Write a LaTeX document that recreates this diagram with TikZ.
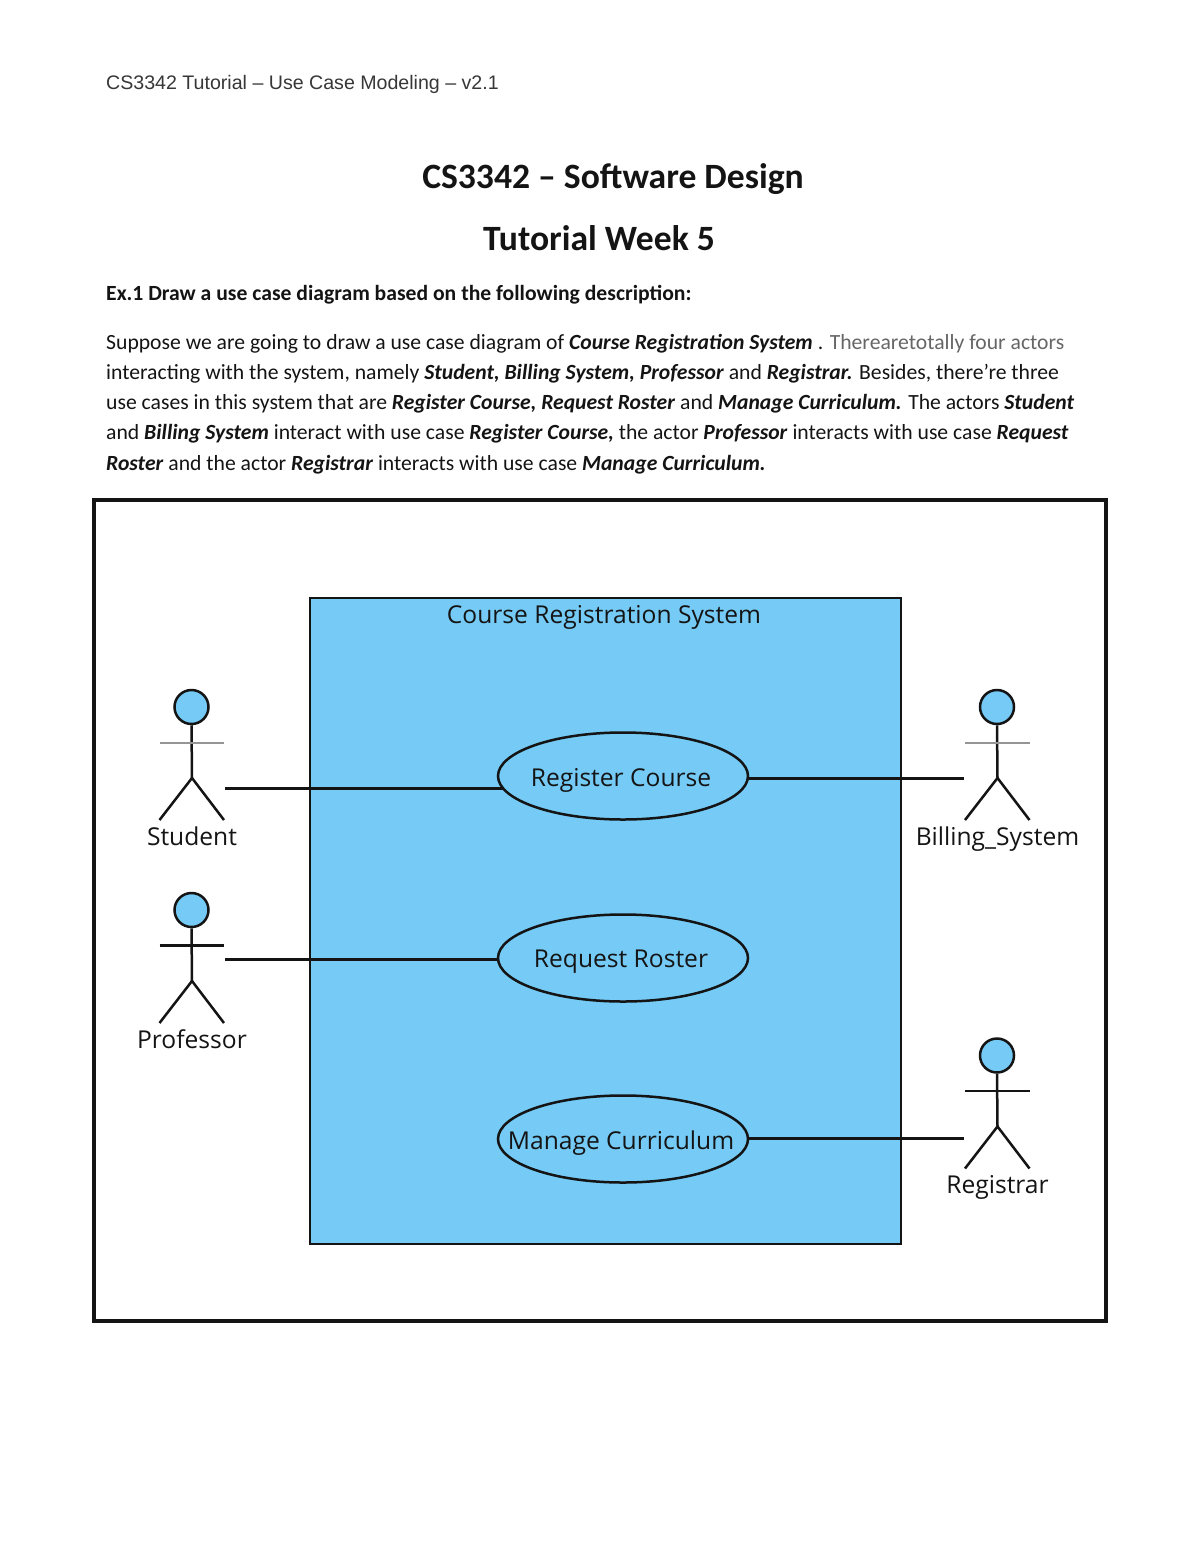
\documentclass[tikz,border=0pt]{standalone}
\usepackage{fontspec}
\setmainfont{Carlito}
\newfontfamily\headfont{Liberation Sans}
\newfontfamily\umlfont{Open Sans}
\definecolor{umlblue}{HTML}{75CBF6}
\definecolor{ink}{HTML}{141414}
\newcommand{\bi}[1]{\textbf{\textit{#1}}}
\usetikzlibrary{shapes.geometric}
\tikzset{
  x=1pt,y=-1pt,
  line/.style={anchor=base west,inner sep=0pt,font=\fontsize{21.65}{24}\selectfont,text=ink},
  title/.style={anchor=base,inner sep=0pt,font=\fontsize{35.6}{40}\selectfont\bfseries,text=ink},
  umltext/.style={anchor=base,inner sep=0pt,text=ink,font=\umlfont\fontsize{24.6}{28}\selectfont},
  usecase/.style={draw=ink,fill=umlblue,ellipse,line width=2.5pt,minimum width=250pt,minimum height=87pt,inner sep=0pt},
  assoc/.style={draw=ink,line width=3pt},
  limb/.style={draw=ink,line width=2.5pt},
  head/.style={draw=ink,fill=umlblue,circle,line width=2.5pt,minimum size=34pt,inner sep=0pt},
}
% #1 name, #2 cx, #3 head y, #4 arm options, #5 label
\newcommand{\actor}[5]{%
  \node[head] (#1head) at (#2,#3) {};
  \coordinate (#1hip) at (#2+0.5,#3+71);
  \draw[limb] (#1head.south) -- (#1hip);
  \draw[limb,#4] (#2-32,#3+35.5) -- (#2+32.5,#3+35.5);
  \draw[limb] (#2-32,#3+113) -- (#1hip) -- (#2+32.5,#3+113);
  \node[umltext] (#1label) at (#2+0.5,#3+138) {#5};
}
\begin{document}
\begin{tikzpicture}
\useasboundingbox (0,0) rectangle (1200,1553);
\fill[white] (0,0) rectangle (1200,1553);
\node[anchor=base west,inner sep=0pt,text=ink!85,font=\headfont\fontsize{19.6}{24}\selectfont] (hdr) at (106,89) {CS3342 Tutorial – Use Case Modeling – v2.1};
\node[title] (t1) at (613,188) {CS3342 – Software Design};
\node[title] (t2) at (599,250) {Tutorial Week 5};
\node[line,font=\fontsize{21.65}{24}\selectfont\bfseries] (ex) at (106,300) {Ex.1 Draw a use case diagram based on the following description:};
\node[line] (l1) at (106,349) {Suppose we are going to draw a use case diagram of \bi{Course Registration System} . \textcolor{ink!65}{Therearetotally four actors}};
\node[line] (l2) at (106,379) {interacting with the system, namely \bi{Student, Billing System, Professor} and \bi{Registrar.} Besides, there’re three};
\node[line] (l3) at (106,409) {use cases in this system that are \bi{Register Course, Request Roster} and \bi{Manage Curriculum.} The actors \bi{Student}};
\node[line] (l4) at (106,439) {and \bi{Billing System} interact with use case \bi{Register Course,} the actor \bi{Professor} interacts with use case \bi{Request}};
\node[line] (l5) at (106,470) {\bi{Roster} and the actor \bi{Registrar} interacts with use case \bi{Manage Curriculum.}};
\node[draw=ink,line width=3.4pt,minimum width=1012pt,minimum height=821pt,inner sep=0pt] (frame) at (600,910.5) {};
\node[draw=ink,fill=umlblue,line width=2.8pt,minimum width=591pt,minimum height=646pt,inner sep=0pt] (system) at (605.5,921) {};
\node[umltext] (systitle) at (604,623.5) {Course Registration System};
\node[usecase] (register) at (623,776) {};
\node[usecase] (roster) at (623,958) {};
\node[usecase] (manage) at (623,1139) {};
\node[umltext] (registerlabel) at (621,786.5) {Register Course};
\node[umltext] (rosterlabel) at (621,967.5) {Request Roster};
\node[umltext] (managelabel) at (621,1149.5) {Manage Curriculum};
\actor{student}{191.5}{707}{draw=ink!45,line width=2pt}{Student}
\actor{billing}{997}{707}{draw=ink!45,line width=2pt}{Billing\_System}
\actor{professor}{191.5}{910}{}{Professor}
\actor{registrar}{997}{1055.5}{}{Registrar}
\coordinate (sh) at (225,788);
\coordinate (bh) at (964,778);
\coordinate (ph) at (225,959);
\coordinate (rh) at (964,1138);
\draw[assoc] (sh) -- ([shift={(-120,12)}]register.center);
\draw[assoc] (bh) -- (register.east |- bh);
\draw[assoc] (ph) -- (roster.west |- ph);
\draw[assoc] (rh) -- (manage.east |- rh);
\end{tikzpicture}
\end{document}
